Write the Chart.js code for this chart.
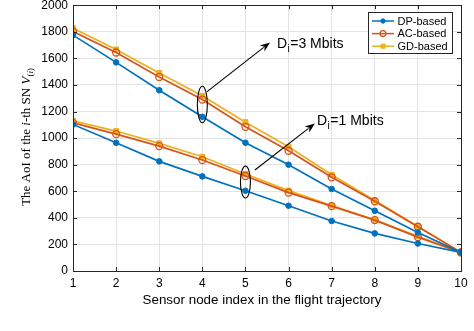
<!DOCTYPE html>
<html>
<head>
<meta charset="utf-8">
<script src="https://cdn.jsdelivr.net/npm/chart.js@4.4.0/dist/chart.umd.min.js"></script>
<style>
  html, body { margin: 0; padding: 0; background: #fff; overflow: hidden; }
  #wrap { width: 474px; height: 331px; overflow: hidden; position: relative; }
  #aoi-chart { position: absolute; left: 0; top: -7px; }
</style>
</head>
<body>
<div id="wrap"><canvas id="aoi-chart" width="474" height="338"></canvas></div>
<script>
// AoI per sensor node along the flight trajectory
var nodeIndex = [1, 2, 3, 4, 5, 6, 7, 8, 9, 10];

// D_i = 3 Mbits
var dp3 = [1775, 1570, 1360, 1160, 965, 800, 617, 453, 290, 140];
var ac3 = [1802, 1644, 1460, 1290, 1085, 905, 705, 525, 333, 140];
var gd3 = [1827, 1667, 1490, 1318, 1120, 935, 724, 530, 335, 140];

// D_i = 1 Mbits
var dp1 = [1103, 965, 825, 712, 604, 491, 376, 283, 207, 140];
var ac1 = [1115, 1030, 940, 835, 715, 590, 488, 383, 255, 140];
var gd1 = [1130, 1053, 960, 860, 730, 605, 492, 386, 262, 140];

var methodNames = ["DP-based", "AC-based", "GD-based"];
var yMin = 0, yMax = 2000, yStep = 200;
var xTitle = "Sensor node index in the flight trajectory";

var BLUE = "#0072BD", ORANGE = "#D95319", YELLOW = "#EDB120";
var AXIS = "#262626";
var SANS = "'Liberation Sans', Arial, sans-serif";
var SERIF = "'Liberation Serif', 'Times New Roman', serif";

function pts(vals) {
  return vals.map(function (v, i) { return { x: nodeIndex[i], y: v }; });
}

function series(label, vals, color, style) {
  var ds = {
    label: label,
    data: pts(vals),
    borderColor: color,
    backgroundColor: color,
    borderWidth: 1.7,
    pointStyle: style,
    pointRadius: 2.8,
    pointBorderWidth: 1,
    tension: 0
  };
  if (color === ORANGE) {
    ds.pointRadius = 3.5;
    ds.pointBackgroundColor = "rgba(0,0,0,0)";
    ds.pointBorderWidth = 1.3;
  }
  if (style === "rect") {
    ds.pointRadius = 3.5;
  }
  return ds;
}

// frame, inward tick marks, legend, annotations, axis titles
var decorations = {
  id: "decorations",
  afterDraw: function (chart) {
    var ctx = chart.ctx;
    var a = chart.chartArea;
    var xs = chart.scales.x, ys = chart.scales.y;

    ctx.save();
    ctx.strokeStyle = AXIS;
    ctx.lineWidth = 1;
    ctx.strokeRect(Math.round(a.left) + 0.5, Math.round(a.top) + 0.5,
      Math.round(a.right - a.left), Math.round(a.bottom - a.top));

    var tl = 4;
    ctx.beginPath();
    nodeIndex.forEach(function (v) {
      var px = Math.round(xs.getPixelForValue(v)) + 0.5;
      ctx.moveTo(px, a.bottom); ctx.lineTo(px, a.bottom - tl);
      ctx.moveTo(px, a.top); ctx.lineTo(px, a.top + tl);
    });
    for (var t = yMin; t <= yMax; t += yStep) {
      var py = Math.round(ys.getPixelForValue(t)) + 0.5;
      ctx.moveTo(a.left, py); ctx.lineTo(a.left + tl, py);
      ctx.moveTo(a.right, py); ctx.lineTo(a.right - tl, py);
    }
    ctx.stroke();

    // ellipses + arrows
    function ellipse(xv, y0, y1) {
      var cx = xs.getPixelForValue(xv);
      var top = ys.getPixelForValue(y1), bot = ys.getPixelForValue(y0);
      ctx.beginPath();
      ctx.ellipse(cx, (top + bot) / 2, 5, (bot - top) / 2, 0, 0, Math.PI * 2);
      ctx.strokeStyle = "#000";
      ctx.lineWidth = 1.1;
      ctx.stroke();
    }
    function arrow(x0, y0, x1, y1) {
      var p0x = xs.getPixelForValue(x0), p0y = ys.getPixelForValue(y0);
      var p1x = xs.getPixelForValue(x1), p1y = ys.getPixelForValue(y1);
      var ang = Math.atan2(p1y - p0y, p1x - p0x);
      var hl = 10, hw = 3.8;
      ctx.strokeStyle = "#000";
      ctx.fillStyle = "#000";
      ctx.lineWidth = 1.1;
      ctx.beginPath();
      ctx.moveTo(p0x, p0y);
      ctx.lineTo(p1x - Math.cos(ang) * hl * 0.8, p1y - Math.sin(ang) * hl * 0.8);
      ctx.stroke();
      ctx.beginPath();
      ctx.moveTo(p1x, p1y);
      ctx.lineTo(p1x - Math.cos(ang) * hl - Math.sin(ang) * hw, p1y - Math.sin(ang) * hl + Math.cos(ang) * hw);
      ctx.lineTo(p1x - Math.cos(ang) * hl * 0.7, p1y - Math.sin(ang) * hl * 0.7);
      ctx.lineTo(p1x - Math.cos(ang) * hl + Math.sin(ang) * hw, p1y - Math.sin(ang) * hl - Math.cos(ang) * hw);
      ctx.closePath();
      ctx.fill();
    }
    function label(xv, yv, mainSize, tail) {
      var px = xs.getPixelForValue(xv), py = ys.getPixelForValue(yv);
      ctx.fillStyle = "#000";
      ctx.textBaseline = "middle";
      ctx.textAlign = "left";
      ctx.font = mainSize + "px " + SANS;
      ctx.fillText("D", px, py);
      var w = ctx.measureText("D").width;
      ctx.font = "10px " + SANS;
      ctx.fillText("i", px + w + 0.5, py + 5);
      var wi = ctx.measureText("i").width;
      ctx.font = mainSize + "px " + SANS;
      ctx.fillText(tail, px + w + wi + 1, py);
    }

    ellipse(4, 1115, 1390);
    arrow(4.11, 1350, 5.57, 1720);
    label(5.73, 1707, 14, "=3 Mbits");

    ellipse(5, 549, 789);
    arrow(5.22, 760, 6.61, 1110);
    label(6.66, 1130, 14, "=1 Mbits");

    // legend box (canvas is shifted up by 7px)
    var off = 7;
    var lx = 368, ly = 12 + off, lw = 84, lh = 41;
    ctx.fillStyle = "#fff";
    ctx.fillRect(lx, ly, lw, lh);
    ctx.strokeStyle = AXIS;
    ctx.lineWidth = 1;
    ctx.strokeRect(lx + 0.5, ly + 0.5, lw, lh);
    [0, 1, 2].forEach(function (i) {
      var ds = chart.data.datasets[i];
      var ry = ly + 9 + i * 12.6;
      ctx.strokeStyle = ds.borderColor;
      ctx.lineWidth = 1.5;
      ctx.beginPath();
      ctx.moveTo(372, ry); ctx.lineTo(394, ry);
      ctx.stroke();
      ctx.fillStyle = ds.pointBackgroundColor || ds.backgroundColor;
      ctx.strokeStyle = ds.borderColor;
      ctx.lineWidth = ds.pointBorderWidth;
      Chart.helpers.drawPoint(ctx, {
        pointStyle: ds.pointStyle, radius: ds.pointRadius - 0.6, rotation: 0,
        borderWidth: ds.pointBorderWidth
      }, 383, ry);
      ctx.fillStyle = "#000";
      ctx.font = "11px " + SANS;
      ctx.textAlign = "left";
      ctx.textBaseline = "middle";
      ctx.fillText(methodNames[i], 397.5, ry + 0.5);
    });

    // x-axis title
    ctx.fillStyle = "#000";
    ctx.font = "13.4px " + SANS;
    ctx.textAlign = "center";
    ctx.textBaseline = "middle";
    ctx.fillText(xTitle, 262, 300 + off);

    // y-axis title with italic parts
    var parts = [
      { t: "The AoI of the ", f: "13px " + SERIF, dy: 0 },
      { t: "i", f: "italic 13px " + SERIF, dy: 0 },
      { t: "-th SN ", f: "13px " + SERIF, dy: 0 },
      { t: "V", f: "italic 13px " + SERIF, dy: 0 },
      { t: "(", f: "9px " + SERIF, dy: 3.5 },
      { t: "i", f: "italic 9px " + SERIF, dy: 3.5 },
      { t: ")", f: "9px " + SERIF, dy: 3.5 }
    ];
    var total = 0;
    parts.forEach(function (p) { ctx.font = p.f; p.w = ctx.measureText(p.t).width; total += p.w; });
    ctx.translate(27, 137 + off);
    ctx.rotate(-Math.PI / 2);
    ctx.textAlign = "left";
    var cx = -total / 2;
    parts.forEach(function (p) {
      ctx.font = p.f;
      ctx.fillText(p.t, cx, p.dy);
      cx += p.w;
    });
    ctx.restore();
  }
};

new Chart(document.getElementById("aoi-chart"), {
  type: "line",
  data: {
    datasets: [
      series("DP-based", dp3, BLUE, "circle"),
      series("AC-based", ac3, ORANGE, "circle"),
      series("GD-based", gd3, YELLOW, "rect"),
      series("DP-based", dp1, BLUE, "circle"),
      series("AC-based", ac1, ORANGE, "circle"),
      series("GD-based", gd1, YELLOW, "rect")
    ]
  },
  options: {
    responsive: false,
    animation: false,
    layout: { padding: { top: 0, right: 13, left: 0, bottom: 40 } },
    plugins: {
      legend: { display: false },
      tooltip: { enabled: false }
    },
    scales: {
      x: {
        type: "linear",
        min: 1, max: 10,
        ticks: {
          stepSize: 1,
          color: "#000",
          padding: 5,
          font: { family: SANS, size: 12 }
        },
        grid: { color: "#e3e3e3", drawTicks: false },
        border: { display: false },
        afterFit: function (s) { s.height = 20; }
      },
      y: {
        min: yMin, max: yMax,
        ticks: {
          stepSize: yStep,
          color: "#000",
          padding: 5,
          font: { family: SANS, size: 12 },
          callback: function (v) { return String(v); }
        },
        grid: { color: "#e3e3e3", drawTicks: false },
        border: { display: false },
        afterFit: function (s) { s.width = 73; }
      }
    }
  },
  plugins: [decorations]
});
</script>
</body>
</html>
